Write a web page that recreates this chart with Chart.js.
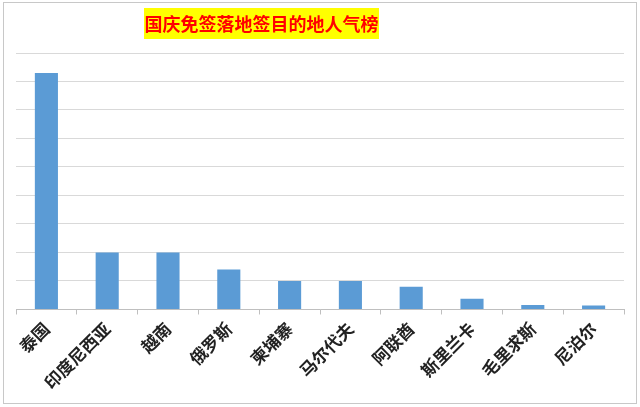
<!DOCTYPE html>
<html>
<head>
<meta charset="utf-8">
<script src="https://cdn.jsdelivr.net/npm/chart.js@4"></script>
<style>
  html, body { margin: 0; padding: 0; background: #fff; }
  #wrap { width: 640px; height: 407px; position: relative; }
</style>
</head>
<body>
<div id="wrap"><canvas id="grafico"></canvas></div>
<script>
// Dados do gráfico
const titulo = '国庆免签落地签目的地人气榜';
const paises = ['泰国', '印度尼西亚', '越南', '俄罗斯', '柬埔寨', '马尔代夫', '阿联酋', '斯里兰卡', '毛里求斯', '尼泊尔'];
const valores = [8.3, 2.0, 2.0, 1.4, 1.0, 1.0, 0.8, 0.38, 0.16, 0.14];

const fonte = '"Noto Sans CJK SC", "Noto Sans", sans-serif';

// Moldura cinza e título com fundo amarelo
const molduraTitulo = {
    id: 'molduraTitulo',
    beforeDraw(chart) {
        const ctx = chart.ctx;
        ctx.save();
        ctx.fillStyle = '#fff';
        ctx.fillRect(0, 0, chart.width, chart.height);
        ctx.strokeStyle = '#c8c8c8';
        ctx.lineWidth = 1;
        ctx.strokeRect(3.5, 2.5, 633, 401);
        ctx.restore();
    },
    afterDraw(chart) {
        const ctx = chart.ctx;
        ctx.save();
        ctx.fillStyle = '#ffff00';
        ctx.fillRect(144, 8, 235, 31);
        ctx.fillStyle = '#ff0000';
        ctx.font = 'bold 18px ' + fonte;
        ctx.textAlign = 'center';
        ctx.textBaseline = 'middle';
        ctx.fillText(titulo, 261.5, 24);
        ctx.restore();
    }
};

function inicializarGrafico() {
    const ctx = document.getElementById('grafico').getContext('2d');
    new Chart(ctx, {
        type: 'bar',
        data: {
            labels: paises,
            datasets: [{
                data: valores,
                backgroundColor: '#5b9bd5',
                borderWidth: 0,
                barPercentage: 0.38,
                categoryPercentage: 1
            }]
        },
        options: {
            responsive: true,
            maintainAspectRatio: false,
            animation: false,
            layout: {
                padding: { top: 53, left: 16, right: 16, bottom: 10 }
            },
            plugins: {
                legend: { display: false },
                title: { display: false },
                tooltip: { enabled: false }
            },
            scales: {
                x: {
                    grid: {
                        display: true,
                        drawOnChartArea: false,
                        drawTicks: true,
                        tickLength: 5,
                        color: '#bfbfbf'
                    },
                    border: { display: true, color: '#bfbfbf' },
                    ticks: {
                        minRotation: 45,
                        maxRotation: 45,
                        color: '#222',
                        padding: 4,
                        font: { family: fonte, size: 17, weight: 'bold' }
                    }
                },
                y: {
                    min: 0,
                    max: 9,
                    ticks: { display: false, stepSize: 1 },
                    grid: { color: '#d9d9d9', drawTicks: false },
                    border: { display: false }
                }
            }
        },
        plugins: [molduraTitulo]
    });
}

document.addEventListener('DOMContentLoaded', inicializarGrafico);
</script>
</body>
</html>
